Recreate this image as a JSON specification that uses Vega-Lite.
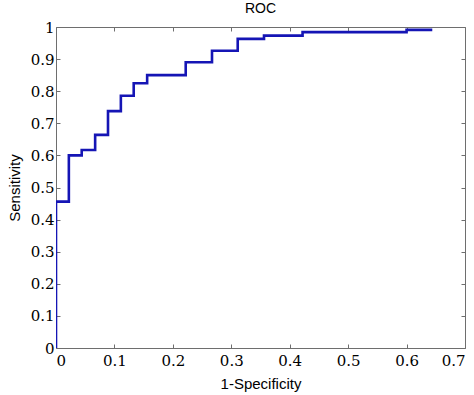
{
  "$schema": "https://vega.github.io/schema/vega-lite/v6.json",
  "width": 409,
  "height": 321,
  "autosize": {"type": "none"},
  "padding": {"left": 56, "top": 27, "right": 9, "bottom": 47},
  "title": {"text": "ROC", "font": "Liberation Sans", "fontSize": 14, "fontWeight": "normal", "color": "#000", "offset": 4},
  "data": {"values": [
    {"fpr": 0, "tpr": 0},
    {"fpr": 0, "tpr": 0.456},
    {"fpr": 0.022, "tpr": 0.6},
    {"fpr": 0.044, "tpr": 0.617},
    {"fpr": 0.067, "tpr": 0.664},
    {"fpr": 0.089, "tpr": 0.738},
    {"fpr": 0.111, "tpr": 0.786},
    {"fpr": 0.133, "tpr": 0.825},
    {"fpr": 0.156, "tpr": 0.85},
    {"fpr": 0.222, "tpr": 0.89},
    {"fpr": 0.267, "tpr": 0.926},
    {"fpr": 0.311, "tpr": 0.963},
    {"fpr": 0.356, "tpr": 0.973},
    {"fpr": 0.422, "tpr": 0.984},
    {"fpr": 0.6, "tpr": 0.991},
    {"fpr": 0.644, "tpr": 0.991}
  ]},
  "layer": [
    {
      "mark": {"type": "line", "interpolate": "step-after", "color": "#1515b5", "strokeWidth": 2.6, "clip": true},
      "encoding": {
        "x": {"field": "fpr", "type": "quantitative", "scale": {"domain": [0, 0.7], "nice": false, "zero": false},
              "axis": {"title": "1-Specificity", "labelFont": "DejaVu Serif", "labelFontSize": 15, "values": [0,0.1,0.2,0.3,0.4,0.5,0.6,0.7], "format": "~g", "orient": "bottom"}},
        "y": {"field": "tpr", "type": "quantitative", "scale": {"domain": [0, 1], "nice": false},
              "axis": {"title": "Sensitivity", "labelFont": "DejaVu Serif", "labelFontSize": 15, "values": [0,0.1,0.2,0.3,0.4,0.5,0.6,0.7,0.8,0.9,1], "format": "~g", "orient": "left"}}
      }
    },
    {
      "mark": {"type": "line", "opacity": 0},
      "encoding": {
        "x": {"field": "fpr", "type": "quantitative", "scale": {"domain": [0, 0.7], "nice": false, "zero": false},
              "axis": {"title": null, "labels": false, "labelPadding": 0, "values": [0,0.1,0.2,0.3,0.4,0.5,0.6,0.7], "orient": "top"}},
        "y": {"field": "tpr", "type": "quantitative", "scale": {"domain": [0, 1], "nice": false},
              "axis": {"title": null, "labels": false, "values": [0,0.1,0.2,0.3,0.4,0.5,0.6,0.7,0.8,0.9,1], "orient": "right"}}
      }
    }
  ],
  "resolve": {"axis": {"x": "independent", "y": "independent"}},
  "config": {
    "view": {"stroke": "#6e6e6e", "strokeWidth": 1},
    "axis": {
      "grid": false,
      "domain": false,
      "tickSize": -4,
      "tickColor": "#6e6e6e",
      "labelColor": "#000",
      "labelPadding": 8,
      "titleFont": "Liberation Sans",
      "titleFontSize": 15,
      "titleFontWeight": "normal",
      "titleColor": "#000"
    },
    "axisBottom": {"titlePadding": 8, "labelPadding": 9},
    "axisLeft": {"titlePadding": 8, "labelPadding": 6}
  }
}
